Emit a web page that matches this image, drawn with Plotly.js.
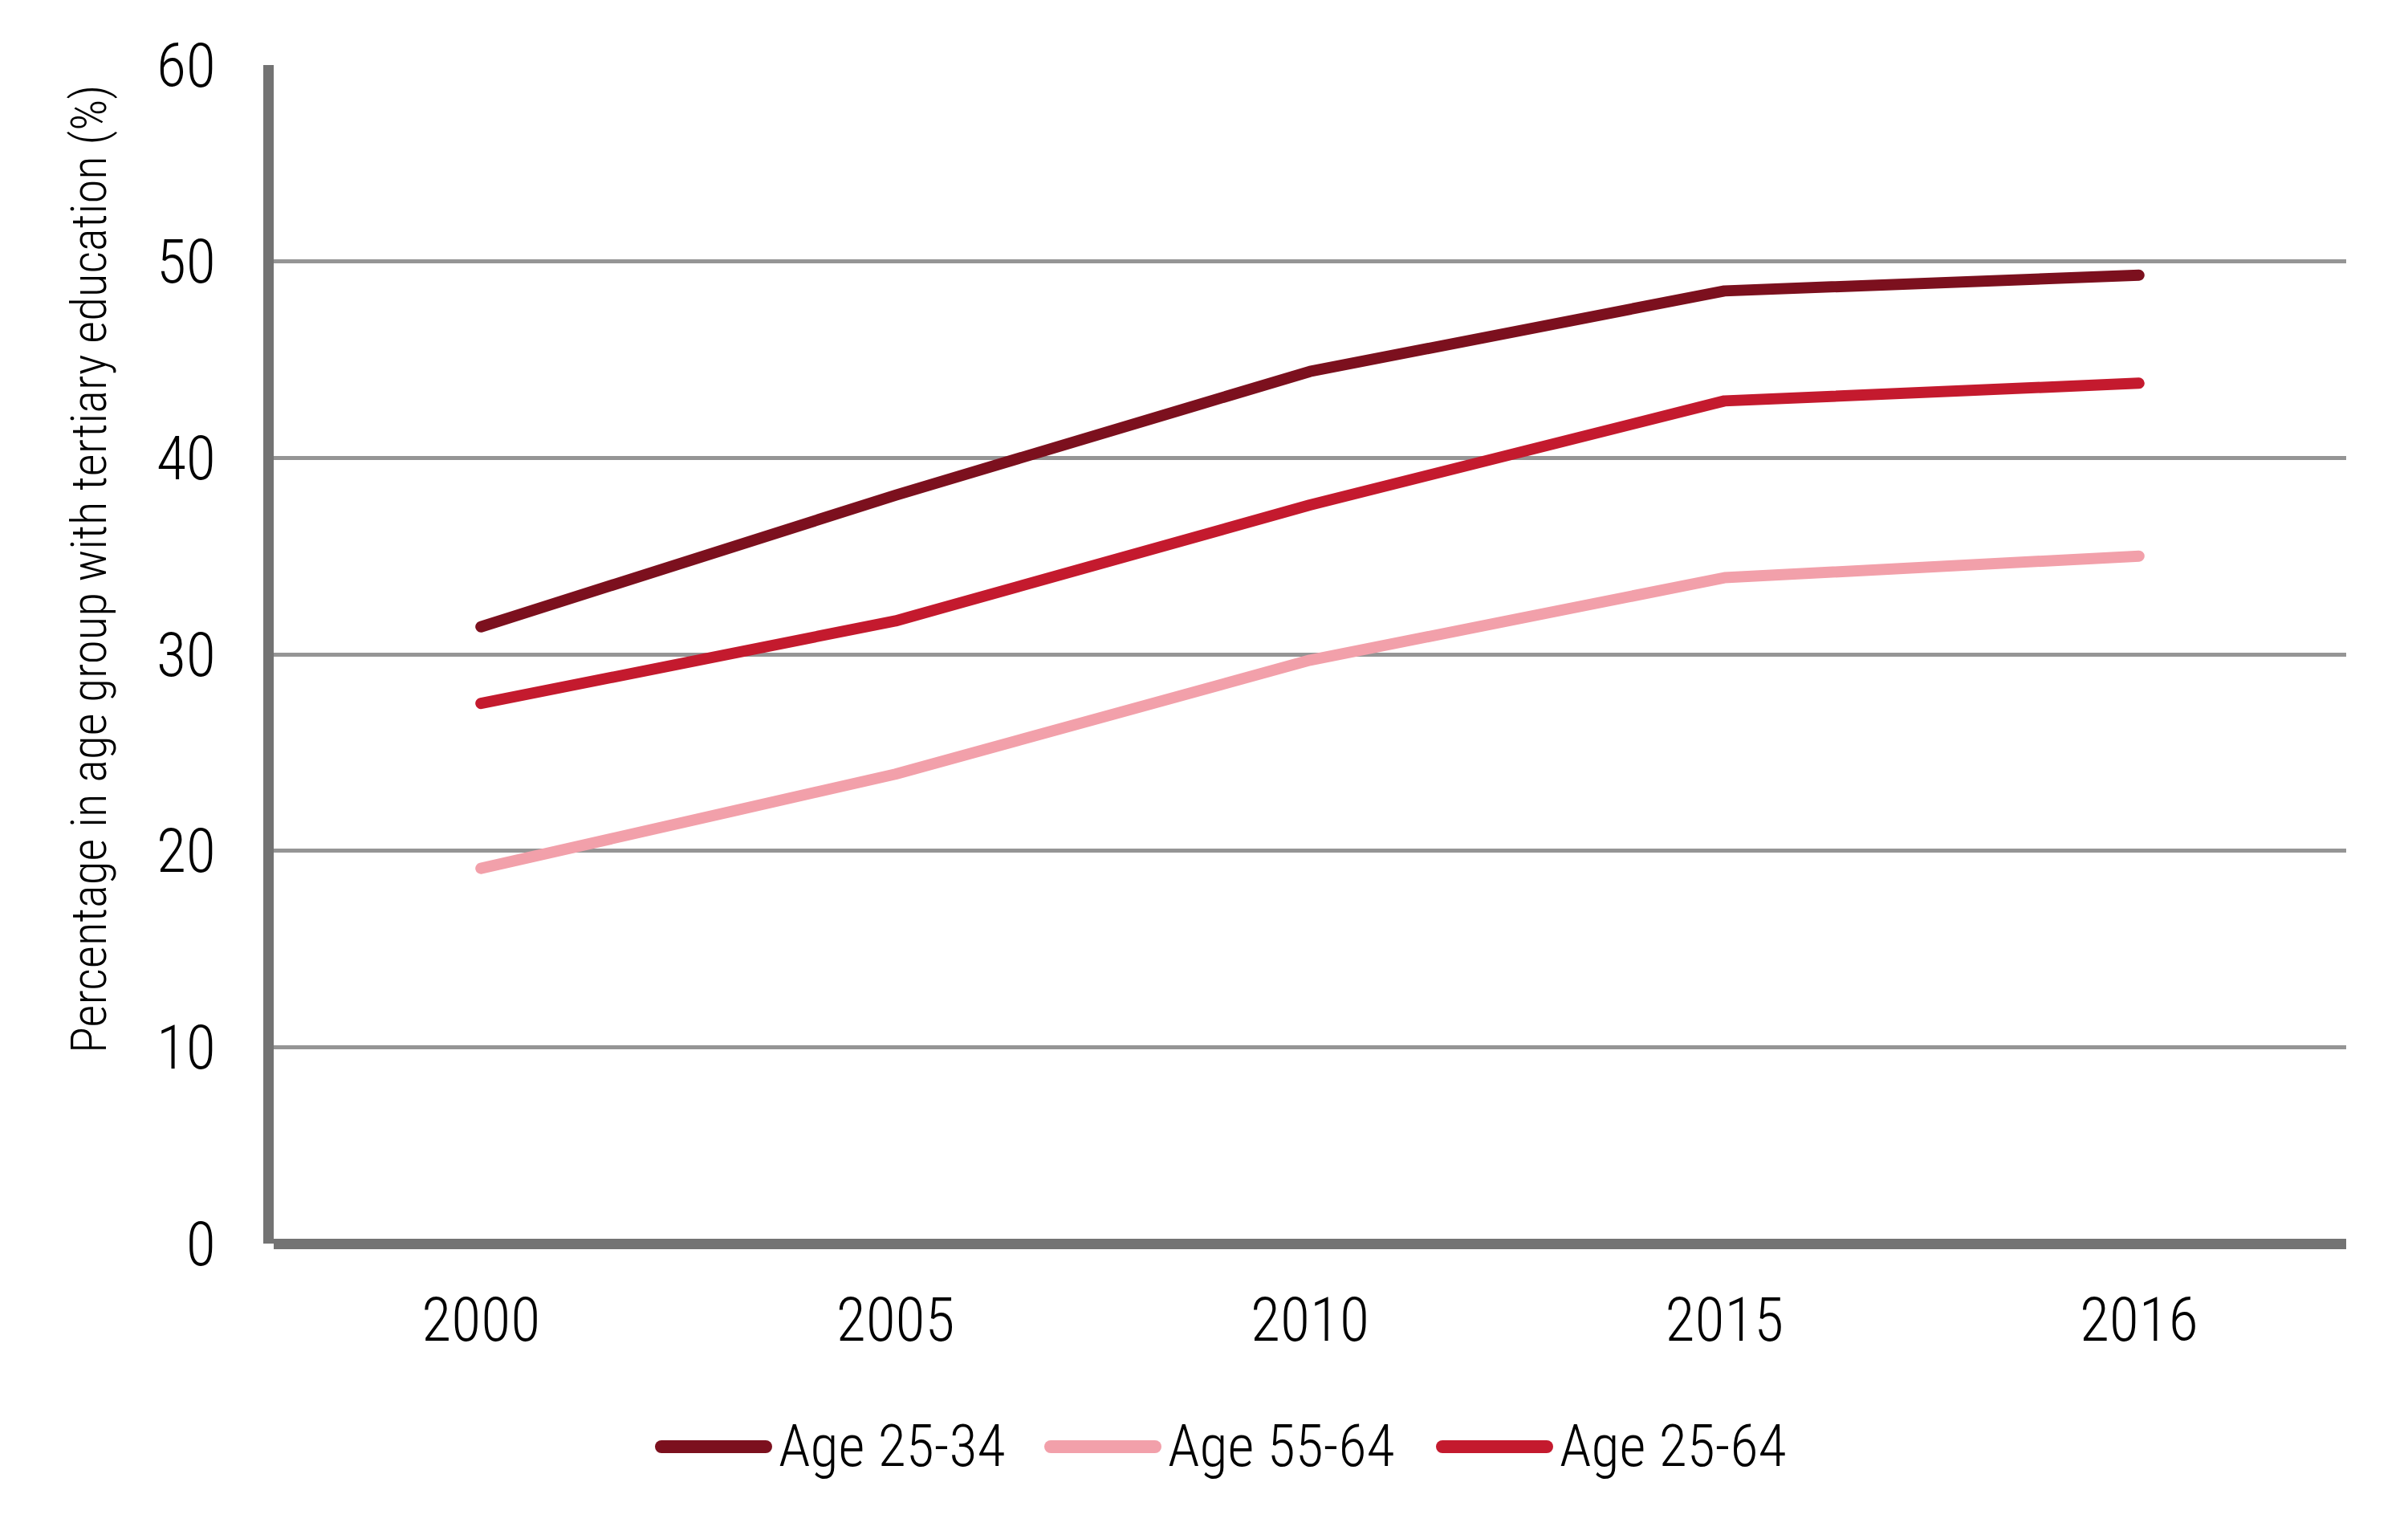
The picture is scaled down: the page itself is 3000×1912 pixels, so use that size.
<!DOCTYPE html>
<html>
<head>
<meta charset="utf-8">
<script src="https://cdn.plot.ly/plotly-3.0.1.min.js"></script>
<style>
  html, body { margin: 0; padding: 0; background: #ffffff; }
  #chart { width: 3000px; height: 1912px; }
  /* rounded ends on the series lines and the legend swatches */
  #chart .scatterlayer path.js-line { stroke-linecap: round; stroke-linejoin: round; }
  #chart .shapelayer path { stroke-linecap: round; }
</style>
</head>
<body>
<div id="chart"></div>
<script>
// Share of each age group holding a tertiary qualification (%)
const years = ['2000', '2005', '2010', '2015', '2016'];
const age2534 = [31.4, 38.1, 44.4, 48.5, 49.3];
const age5564 = [19.1, 23.9, 29.7, 33.9, 35.0];
const age2564 = [27.5, 31.7, 37.6, 42.9, 43.8];

const seriesNames = ['Age 25-34', 'Age 55-64', 'Age 25-64'];
const seriesValues = [age2534, age5564, age2564];
const seriesColors = ['#7c101e', '#f2a0aa', '#c41a2e'];

const yTickVals = [0, 10, 20, 30, 40, 50, 60];
const yTitle = 'Percentage in age group with tertiary education (%)';

const FONT = '"Roboto Condensed", "Liberation Sans Narrow", "DejaVu Sans Condensed", sans-serif';
const TICK_SIZE = 76;
const LEGEND_SIZE = 72;
const TITLE_SIZE = 61;

// Plot frame in pixels
const W = 3000, H = 1912;
const M = { l: 341, r: 77, t: 81, b: 363 };
const plotW = W - M.l - M.r;
const plotH = H - M.t - M.b;
const px2x = px => (px - M.l) / plotW;
const py2y = py => (H - M.b - py) / plotH;

const traces = seriesNames.map((name, i) => ({
  type: 'scatter',
  mode: 'lines',
  name: name,
  x: years,
  y: seriesValues[i],
  line: { color: seriesColors[i], width: 14, shape: 'linear' },
  showlegend: false,
  hoverinfo: 'x+y+name'
}));

// Legend row beneath the axis: long rounded swatch followed by its label
const legendSwatchX = [816, 1301, 1789];
const legendSwatchLen = 146;
const legendY = 1802;
const shapes = [];
const annotations = [];
seriesNames.forEach((name, i) => {
  shapes.push({
    type: 'line', xref: 'paper', yref: 'paper',
    x0: px2x(legendSwatchX[i] + 8), x1: px2x(legendSwatchX[i] + legendSwatchLen - 8),
    y0: py2y(legendY), y1: py2y(legendY),
    line: { color: seriesColors[i], width: 16 }
  });
  annotations.push({
    xref: 'paper', yref: 'paper',
    x: px2x(legendSwatchX[i] + legendSwatchLen + 6), y: py2y(legendY),
    xanchor: 'left', yanchor: 'middle',
    text: name, showarrow: false,
    font: { family: FONT, size: LEGEND_SIZE, weight: 300, color: '#000000' }
  });
});

// Vertical axis caption
annotations.push({
  xref: 'paper', yref: 'paper',
  x: px2x(111), y: py2y(709),
  xanchor: 'center', yanchor: 'middle',
  textangle: -90,
  text: yTitle, showarrow: false,
  font: { family: FONT, size: TITLE_SIZE, weight: 300, color: '#000000' }
});

const layout = {
  width: W, height: H,
  margin: M,
  paper_bgcolor: '#ffffff',
  plot_bgcolor: '#ffffff',
  font: { family: FONT, size: TICK_SIZE, weight: 300, color: '#000000' },
  showlegend: false,
  xaxis: {
    type: 'category',
    range: [-0.5, years.length - 0.5],
    showgrid: false,
    zeroline: false,
    showline: false,
    ticks: '',
    ticklabelstandoff: 44,
    tickfont: { family: FONT, size: TICK_SIZE, weight: 300, color: '#000000' },
    fixedrange: true
  },
  yaxis: {
    range: [0, 60],
    tickmode: 'array',
    tickvals: yTickVals,
    ticktext: yTickVals.map(String),
    showgrid: true,
    gridcolor: '#959595',
    gridwidth: 5,
    zeroline: true,
    zerolinecolor: '#737373',
    zerolinewidth: 13,
    showline: true,
    linecolor: '#737373',
    linewidth: 13,
    ticks: '',
    ticklabelstandoff: 44,
    tickfont: { family: FONT, size: TICK_SIZE, weight: 300, color: '#000000' },
    fixedrange: true
  },
  shapes: shapes,
  annotations: annotations
};

Plotly.newPlot('chart', traces, layout, { displayModeBar: false, staticPlot: true });
</script>
</body>
</html>
